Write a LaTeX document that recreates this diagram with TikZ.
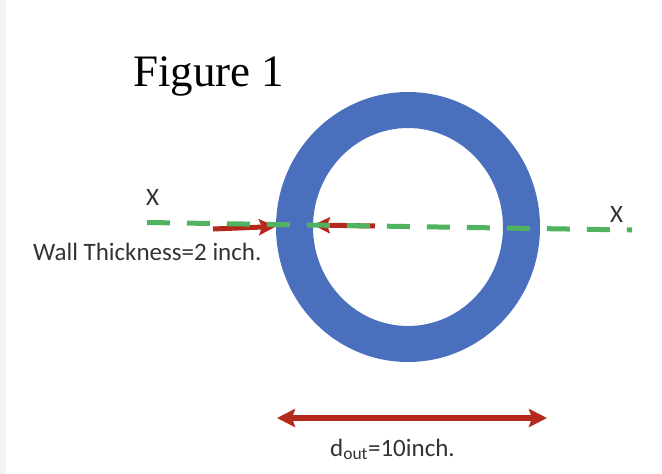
\documentclass[tikz,border=0pt]{standalone}
\usepackage{fontspec}
\setmainfont{Carlito}
\newfontfamily\figfont{Liberation Serif}
\usepackage{xcolor}
\definecolor{RingBlue}{HTML}{4A6FBD}
\definecolor{AxisGreen}{HTML}{4FB35F}
\definecolor{DimRed}{HTML}{B5281C}
\definecolor{SideGrey}{HTML}{F3F3F3}
\usetikzlibrary{arrows.meta}
\begin{document}
\begin{tikzpicture}[x=1pt,y=-1pt,
        axis/.style={AxisGreen,line width=5pt,dash pattern=on 23pt off 17pt},
        dim/.style={DimRed,line width=5pt,-{Stealth[length=17pt,width=16pt,inset=3pt]}},
        dimboth/.style={DimRed,line width=5.5pt,{Stealth[length=18pt,width=18pt,inset=3pt]}-{Stealth[length=18pt,width=18pt,inset=3pt]}},
        lbl/.style={anchor=base west,inner sep=0pt,font=\fontsize{25}{28}\selectfont,text=black!80}]
        \useasboundingbox (0,0) rectangle (662,474);
        \fill[SideGrey] (0,0) rectangle (6,474);
        \node[anchor=base west,inner sep=0pt,font=\figfont\fontsize{45}{50}\selectfont] (title) at (133,86) {Figure 1};
        % ring
        \fill[RingBlue,even odd rule] (408,227) ellipse [x radius=132,y radius=135]
            (408,227) ellipse [x radius=95,y radius=99];
        % axis line
        \coordinate (axisL) at (147,222.5);
        \coordinate (axisR) at (632,230);
        % wall arrows
        \coordinate (wallA) at (213,229);
        \coordinate (wallB) at (276,226.5);
        \coordinate (wallC) at (375,226);
        \coordinate (wallD) at (313,225);
        \draw[dim] (wallA) -- (wallB);
        \draw[dim] (wallC) -- (wallD);
        \draw[axis] (axisL) -- (axisR);
        % outer diameter
        \coordinate (dimL) at (277,418);
        \coordinate (dimR) at (547,418);
        \draw[dimboth] (dimL) -- (dimR);
        \node[lbl] (xleft) at (146,205) {X};
        \node[lbl] (xright) at (610,222) {X};
        \node[lbl] (wall) at (33,260) {Wall Thickness=2 inch.};
        \node[lbl] (dout) at (330,456) {d\textsubscript{out}=10inch.};
    \end{tikzpicture}
\end{document}
